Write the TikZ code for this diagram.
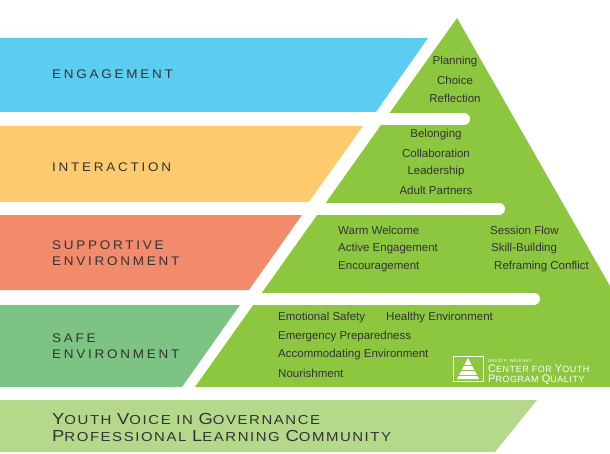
\documentclass[tikz,border=0pt]{standalone}
\usepackage{fontspec}
\setmainfont{Liberation Sans}
\newfontfamily\headf[LetterSpace=22,FakeStretch=1.08]{Liberation Sans}
\newfontfamily\botf[LetterSpace=12,FakeStretch=1.15]{Liberation Sans}
\newfontfamily\logof[LetterSpace=6]{Liberation Sans}
\definecolor{cblue}{HTML}{5BCDF0}
\definecolor{cyel}{HTML}{FDCB6E}
\definecolor{csal}{HTML}{F28B6C}
\definecolor{cgrn}{HTML}{7DC383}
\definecolor{cpyr}{HTML}{8DC63F}
\definecolor{clight}{HTML}{B5D98A}
\definecolor{ctxt}{HTML}{333333}
\begin{document}
\begin{tikzpicture}[x=1pt,y=-1pt,
  head/.style={anchor=west,font=\headf\fontsize{12.5}{16}\selectfont,text=ctxt,align=left,inner sep=0},
  item/.style={font=\fontsize{11.5}{13}\selectfont,text=ctxt,inner sep=0},
  bar/.style={white,line width=12pt,line cap=round}]
\useasboundingbox (0,0) rectangle (610,454);
\fill[cpyr] (457,18) -- (195,387) -- (610,387) -- (610,286) -- cycle;
\fill[cblue] (0,38) -- (428,38) -- (376,112) -- (0,112) -- cycle;
\fill[cyel] (0,126) -- (363,126) -- (309,202) -- (0,202) -- cycle;
\fill[csal] (0,215) -- (302,215) -- (249,290) -- (0,290) -- cycle;
\fill[cgrn] (0,305) -- (240,305) -- (182,387) -- (0,387) -- cycle;
\fill[clight] (0,400) -- (537,400) -- (495,452) -- (0,452) -- cycle;
\draw[bar] (0,119) -- (464,119);
\draw[bar] (0,209) -- (499,209);
\draw[bar] (0,298.5) -- (534,298.5);
\node[head] (h1) at (52,74) {ENGAGEMENT};
\node[head] (h2) at (52,167) {INTERACTION};
\node[head] (h3) at (52,253) {SUPPORTIVE\\ENVIRONMENT};
\node[head] (h4) at (52,346) {SAFE\\ENVIRONMENT};
\node[head,font=\botf\fontsize{16}{17}\selectfont] (h5) at (52,427) {Y\fontsize{13}{17}\selectfont OUTH \fontsize{16}{17}\selectfont V\fontsize{13}{17}\selectfont OICE IN \fontsize{16}{17}\selectfont G\fontsize{13}{17}\selectfont OVERNANCE\\\fontsize{16}{17}\selectfont P\fontsize{13}{17}\selectfont ROFESSIONAL \fontsize{16}{17}\selectfont L\fontsize{13}{17}\selectfont EARNING \fontsize{16}{17}\selectfont C\fontsize{13}{17}\selectfont OMMUNITY};
\node[item] (a1) at (455,62) {Planning};
\node[item] (a2) at (455,80) {Choice};
\node[item] (a3) at (455,98) {Reflection};
\node[item] (b1) at (436,135) {Belonging};
\node[item] (b2) at (436,153) {Collaboration};
\node[item] (b3) at (436,172) {Leadership};
\node[item] (b4) at (436,190) {Adult Partners};
\node[item,anchor=west] (c1) at (338,230) {Warm Welcome};
\node[item,anchor=west] (c2) at (338,249) {Active Engagement};
\node[item,anchor=west] (c3) at (338,267) {Encouragement};
\node[item,anchor=west] (c4) at (490,230) {Session Flow};
\node[item,anchor=west] (c5) at (491,249) {Skill-Building};
\node[item,anchor=west] (c6) at (494,267) {Reframing Conflict};
\node[item,anchor=west] (d1) at (278,318) {Emotional Safety};
\node[item,anchor=west] (d2) at (386,318) {Healthy Environment};
\node[item,anchor=west] (d3) at (278,337) {Emergency Preparedness};
\node[item,anchor=west] (d4) at (278,355) {Accommodating Environment};
\node[item,anchor=west] (d5) at (278,373) {Nourishment};
% logo
\draw[white,line width=0.8pt] (453,356) rectangle (483,381);
\fill[white] (468,358) -- (457,379) -- (479,379) -- cycle;
\foreach \yy in {365,370,375} \draw[cpyr,line width=0.8pt] (458,\yy) -- (478,\yy);
\node[anchor=west,inner sep=0,text=white,font=\logof\fontsize{4.5}{5}\selectfont] (l1) at (488,361) {DAVID P. WEIKART};
\node[anchor=west,inner sep=0,text=white,font=\logof\fontsize{11}{10}\selectfont,align=left] (l2) at (488,375) {C\fontsize{9}{10}\selectfont ENTER FOR \fontsize{11}{10}\selectfont Y\fontsize{9}{10}\selectfont OUTH\\[0pt]\fontsize{11}{10}\selectfont P\fontsize{9}{10}\selectfont ROGRAM \fontsize{11}{10}\selectfont Q\fontsize{9}{10}\selectfont UALITY};
\end{tikzpicture}
\end{document}
